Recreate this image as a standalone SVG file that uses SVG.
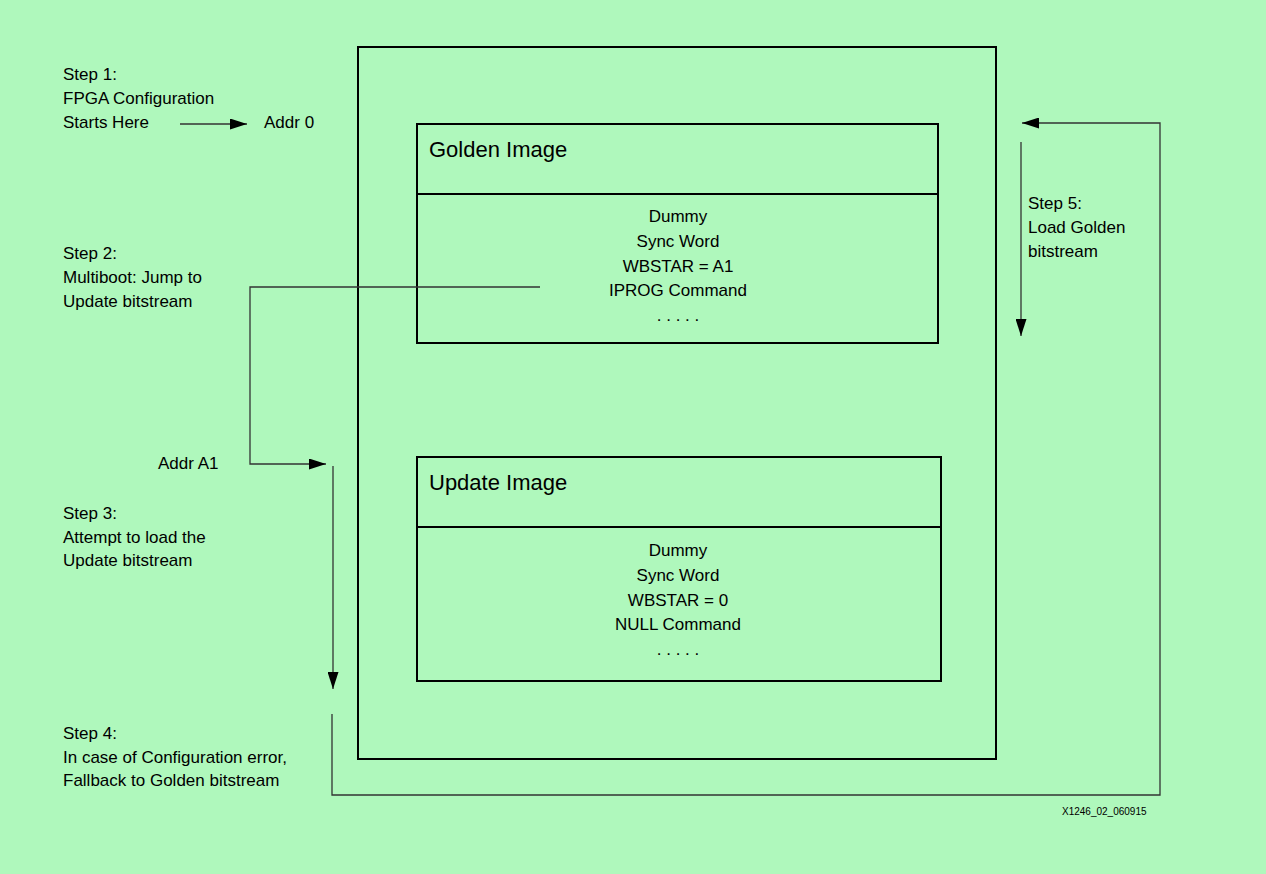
<svg xmlns="http://www.w3.org/2000/svg" width="1266" height="874" viewBox="0 0 1266 874">
<style>
text{font-family:"Liberation Sans",Arial,sans-serif;fill:#000}
.s{font-size:17px}
.b{font-size:17px;text-anchor:middle}
.t{font-size:22px}
.box{fill:none;stroke:#000;stroke-width:2}
.c{fill:none;stroke:#333;stroke-width:1.3}
</style>
<defs><marker id="a" viewBox="0 0 17 11" refX="17" refY="5.5" markerWidth="17" markerHeight="11" markerUnits="userSpaceOnUse" orient="auto"><path d="M0,0L17,5.5L0,11z" fill="#000"/></marker></defs>
<rect width="1266" height="874" fill="#aff8bc"/>
<g id="outer"><rect x="358" y="47" width="638" height="712" class="box" fill="#abf5b7"/></g>
<g id="golden"><rect x="417" y="124" width="521" height="219" class="box"/><line x1="417" y1="194" x2="938" y2="194" stroke="#000" stroke-width="2"/>
<text x="429" y="157" class="t">Golden Image</text>
<text class="b" x="678" y="222">Dummy</text><text class="b" x="678" y="247">Sync Word</text><text class="b" x="678" y="272">WBSTAR = A1</text><text class="b" x="678" y="296">IPROG Command</text><text class="b" x="678" y="321">. . . . .</text></g>
<g id="update"><rect x="417" y="457" width="524" height="224" class="box"/><line x1="417" y1="527" x2="941" y2="527" stroke="#000" stroke-width="2"/>
<text x="429" y="490" class="t">Update Image</text>
<text class="b" x="678" y="556">Dummy</text><text class="b" x="678" y="581">Sync Word</text><text class="b" x="678" y="606">WBSTAR = 0</text><text class="b" x="678" y="630">NULL Command</text><text class="b" x="678" y="655">. . . . .</text></g>
<g id="labels" class="s">
<text x="63" y="80" class="s">Step 1:</text><text x="63" y="104" class="s">FPGA Configuration</text><text x="63" y="128" class="s">Starts Here</text>
<text x="264" y="128" class="s">Addr 0</text>
<text x="63" y="259" class="s">Step 2:</text><text x="63" y="283" class="s">Multiboot: Jump to</text><text x="63" y="307" class="s">Update bitstream</text>
<text x="158" y="469" class="s">Addr A1</text>
<text x="63" y="519" class="s">Step 3:</text><text x="63" y="543" class="s">Attempt to load the</text><text x="63" y="566" class="s">Update bitstream</text>
<text x="63" y="739" class="s">Step 4:</text><text x="63" y="763" class="s">In case of Configuration error,</text><text x="63" y="786" class="s">Fallback to Golden bitstream</text>
<text x="1028" y="209" class="s">Step 5:</text><text x="1028" y="233" class="s">Load Golden</text><text x="1028" y="257" class="s">bitstream</text>
<text x="1062" y="815" style="font-size:10px">X1246_02_060915</text>
</g>
<g id="connectors">
<path class="c" d="M180,124H247" marker-end="url(#a)"/>
<path class="c" d="M540,287H250V464H326" marker-end="url(#a)"/>
<path class="c" d="M333,466V689" marker-end="url(#a)"/>
<path class="c" d="M332,714V795H1160V123H1022" marker-end="url(#a)"/>
<path class="c" d="M1021,142V336" marker-end="url(#a)"/>
</g>
</svg>
